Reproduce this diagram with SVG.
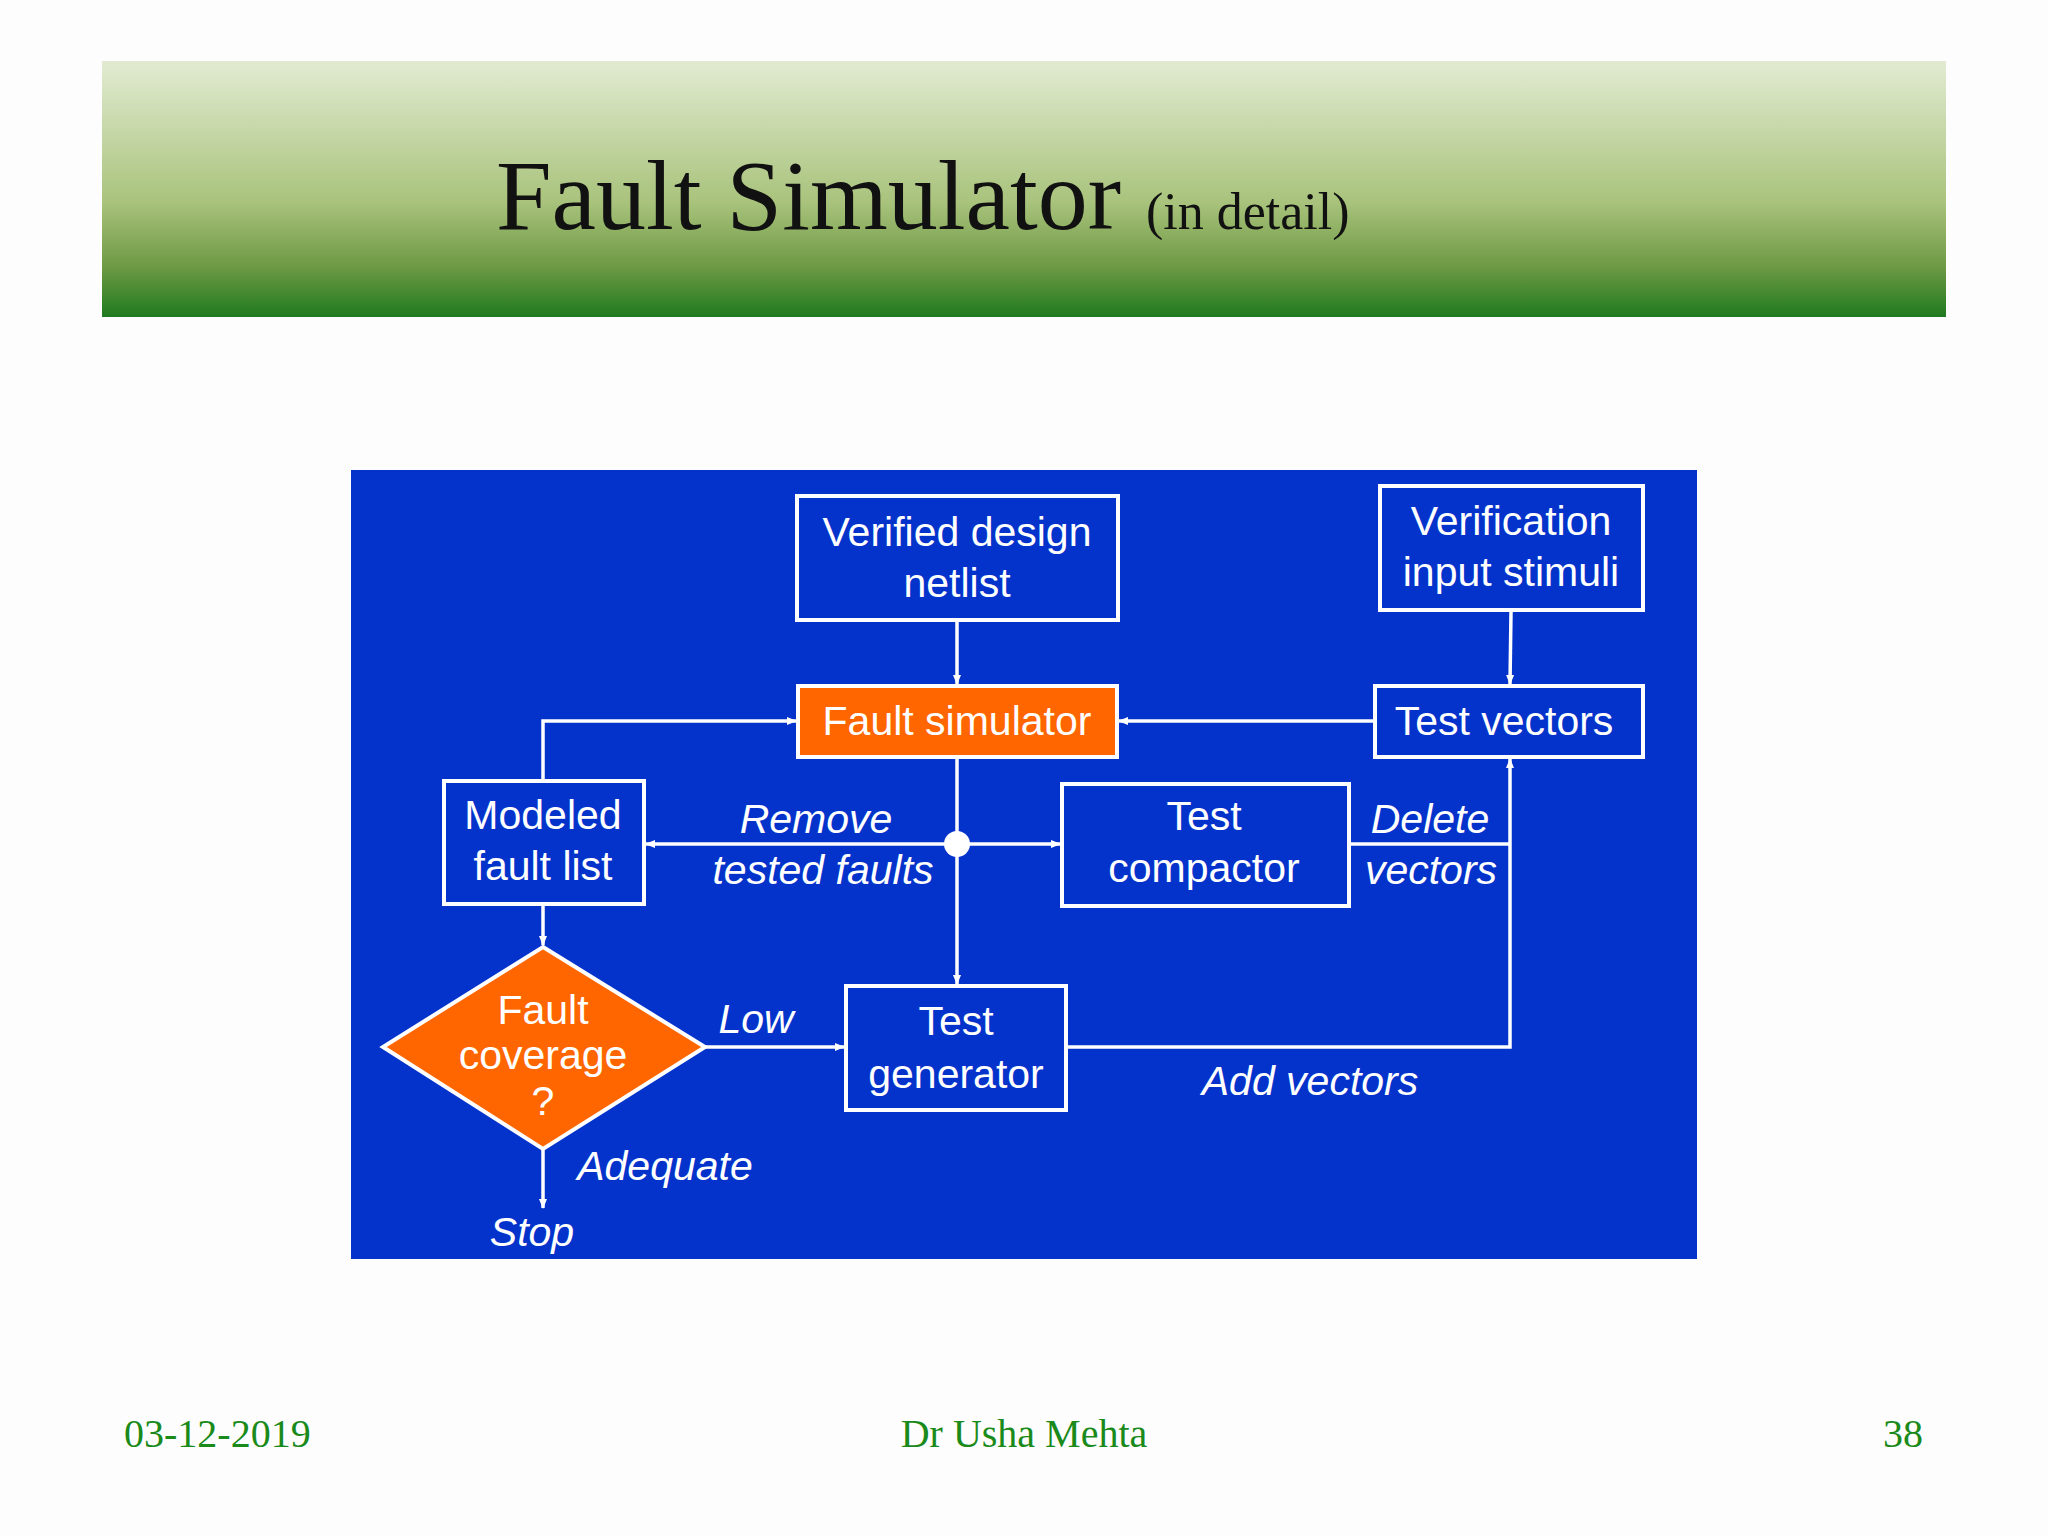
<svg xmlns="http://www.w3.org/2000/svg" width="2048" height="1536" viewBox="0 0 2048 1536">
<defs>
<linearGradient id="hdr" x1="0" y1="0" x2="0" y2="1">
<stop offset="0" stop-color="#e2ebd2"/>
<stop offset="0.55" stop-color="#a9c37c"/>
<stop offset="0.8" stop-color="#6f9a45"/>
<stop offset="1" stop-color="#1f7a1f"/>
</linearGradient>
<marker id="ah" markerWidth="10" markerHeight="10" refX="9" refY="5" orient="auto" markerUnits="userSpaceOnUse">
<path d="M0,1 L10,5 L0,9 Z" fill="#fff"/>
</marker>
<style>
.box{fill:none;stroke:#fff;stroke-width:4}
.ob{fill:#ff6600;stroke:#fff;stroke-width:4}
.t{font-family:"Liberation Sans",Arial,sans-serif;font-size:41px;fill:#fff;text-anchor:middle}
.i{font-style:italic}
.c{fill:none;stroke:#fff;stroke-width:3.5}
.ft{font-family:"Liberation Serif","DejaVu Serif",serif;font-size:40px;fill:#1a8a1a}
</style>
</defs>
<rect width="2048" height="1536" fill="#fdfdfd"/>
<rect x="102" y="61" width="1844" height="256" fill="url(#hdr)"/>
<text x="496" y="229" font-family="Liberation Serif,DejaVu Serif,serif" font-size="100" fill="#111">Fault Simulator <tspan font-size="52">(in detail)</tspan></text>
<rect x="351" y="470" width="1346" height="789" fill="#0433cc"/>
<g id="connectors">
<path class="c" d="M957,620 V684" marker-end="url(#ah)"/>
<path class="c" d="M1511,612 L1510,684" marker-end="url(#ah)"/>
<path class="c" d="M1375,721 H1119" marker-end="url(#ah)"/>
<path class="c" d="M543,781 V721 H796" marker-end="url(#ah)"/>
<path class="c" d="M957,757 V984" marker-end="url(#ah)"/>
<circle cx="957" cy="844" r="13" fill="#fff"/>
<path class="c" d="M957,844 H646" marker-end="url(#ah)"/>
<path class="c" d="M957,844 H1060" marker-end="url(#ah)"/>
<path class="c" d="M1349,844 H1510"/>
<path class="c" d="M1066,1047 H1510 V759" marker-end="url(#ah)"/>
<path class="c" d="M543,904 V945" marker-end="url(#ah)"/>
<path class="c" d="M705,1047 H844" marker-end="url(#ah)"/>
<path class="c" d="M543,1149 V1208" marker-end="url(#ah)"/>
</g>
<g id="netlist"><rect class="box" x="797" y="496" width="321" height="124"/><text class="t" x="957" y="546">Verified design</text><text class="t" x="957" y="597">netlist</text></g>
<g id="stimuli"><rect class="box" x="1380" y="486" width="263" height="124"/><text class="t" x="1511" y="535">Verification</text><text class="t" x="1511" y="586">input stimuli</text></g>
<g id="faultsim"><rect class="ob" x="798" y="686" width="319" height="71"/><text class="t" x="957" y="735">Fault simulator</text></g>
<g id="testvectors"><rect class="box" x="1375" y="686" width="268" height="71"/><text class="t" x="1504" y="735">Test vectors</text></g>
<g id="faultlist"><rect class="box" x="444" y="781" width="200" height="123"/><text class="t" x="543" y="829">Modeled</text><text class="t" x="543" y="880">fault list</text></g>
<g id="compactor"><rect class="box" x="1062" y="784" width="287" height="122"/><text class="t" x="1204" y="830">Test</text><text class="t" x="1204" y="882">compactor</text></g>
<g id="generator"><rect class="box" x="846" y="986" width="220" height="124"/><text class="t" x="956" y="1035">Test</text><text class="t" x="956" y="1088">generator</text></g>
<g id="coverage"><polygon class="ob" points="543,947 705,1047 543,1149 383,1047"/><text class="t" x="543" y="1024">Fault</text><text class="t" x="543" y="1069">coverage</text><text class="t" x="543" y="1115">?</text></g>
<g id="labels">
<text class="t i" x="816" y="833">Remove</text>
<text class="t i" x="823" y="884">tested faults</text>
<text class="t i" x="1430" y="833">Delete</text>
<text class="t i" x="1431" y="884">vectors</text>
<text class="t i" x="756" y="1033">Low</text>
<text class="t i" x="1310" y="1095">Add vectors</text>
<text class="t i" x="665" y="1180">Adequate</text>
<text class="t i" x="532" y="1246">Stop</text>
</g>
<text class="ft" x="124" y="1447">03-12-2019</text>
<text class="ft" x="1024" y="1447" text-anchor="middle">Dr Usha Mehta</text>
<text class="ft" x="1923" y="1447" text-anchor="end">38</text>
</svg>
